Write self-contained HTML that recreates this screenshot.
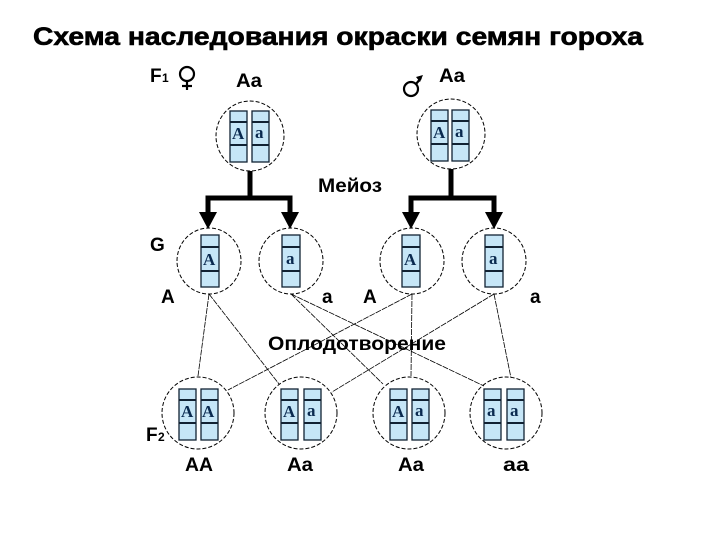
<!DOCTYPE html>
<html><head><meta charset="utf-8"><style>
html,body{margin:0;padding:0;background:#fff;}
svg{display:block;}
text{font-family:"Liberation Sans",sans-serif;font-weight:bold;fill:#000;}
.g{font-family:"Liberation Serif",serif;font-weight:bold;fill:#0a2a50;font-size:17px;}
</style></head><body>
<svg width="720" height="540" viewBox="0 0 720 540" xmlns="http://www.w3.org/2000/svg">
<defs>
<g id="chr2"><rect x="0" y="0" width="17" height="51" fill="#c6e6f7" stroke="#123" stroke-width="1.3"/><line x1="0" y1="11" x2="17" y2="11" stroke="#123" stroke-width="2"/><line x1="0" y1="34" x2="17" y2="34" stroke="#123" stroke-width="2"/></g>
<g id="chr1"><rect x="0" y="0" width="18" height="52" fill="#c6e6f7" stroke="#123" stroke-width="1.3"/><line x1="0" y1="12" x2="18" y2="12" stroke="#123" stroke-width="2"/><line x1="0" y1="36" x2="18" y2="36" stroke="#123" stroke-width="2"/></g>
</defs>
<text x="33" y="45" font-size="25" stroke="#000" stroke-width="0.6" textLength="610" lengthAdjust="spacingAndGlyphs">Схема наследования окраски семян  гороха</text>

<g fill="none" stroke="#000" stroke-width="1" stroke-dasharray="4,2">
<ellipse cx="250" cy="136" rx="34" ry="35"/>
<ellipse cx="451" cy="134" rx="34" ry="35"/>
<ellipse cx="209" cy="261" rx="32" ry="33"/>
<ellipse cx="291" cy="261" rx="32" ry="33"/>
<ellipse cx="412" cy="261" rx="32" ry="33"/>
<ellipse cx="494" cy="261" rx="32" ry="33"/>
</g>
<use href="#chr2" x="230" y="111"/><use href="#chr2" x="252" y="111"/>
<use href="#chr2" x="431" y="110"/><use href="#chr2" x="452" y="110"/>
<text class="g" x="232" y="139">A</text><text class="g" x="255" y="138">a</text>
<text class="g" x="433" y="138">A</text><text class="g" x="455" y="137">a</text>

<use href="#chr1" x="201" y="235"/><use href="#chr1" x="282" y="235"/>
<use href="#chr1" x="402" y="235"/><use href="#chr1" x="485" y="235"/>
<text class="g" x="203" y="265">A</text><text class="g" x="286" y="264">a</text>
<text class="g" x="404" y="265">A</text><text class="g" x="489" y="264">a</text>

<g fill="none" stroke="#000" stroke-width="5">
<path d="M250 171 V198 H208 V215 M250 198 H290 V215"/>
<path d="M451 169 V198 H411 V215 M451 198 H494 V215"/>
</g>
<g fill="#000">
<polygon points="199,212 217,212 208,229"/><polygon points="281,212 299,212 290,229"/>
<polygon points="402,212 420,212 411,229"/><polygon points="485,212 503,212 494,229"/>
</g>

<text x="150" y="82" font-size="19">F</text><text x="162" y="82" font-size="12">1</text>
<g fill="none" stroke="#000" stroke-width="2.2">
<circle cx="187" cy="74" r="7"/><line x1="187" y1="81" x2="187" y2="90"/><line x1="182" y1="86" x2="192" y2="86"/>
<circle cx="411" cy="89" r="7"/><line x1="416" y1="84" x2="421" y2="78"/>
</g>
<polygon points="416,77 423,75 420,82" fill="#000"/>
<text x="236" y="87" font-size="19" textLength="26" lengthAdjust="spacingAndGlyphs">Aa</text>
<text x="439" y="82" font-size="19" textLength="26" lengthAdjust="spacingAndGlyphs">Aa</text>
<text x="318" y="192" font-size="19" textLength="64" lengthAdjust="spacingAndGlyphs">Мейоз</text>
<text x="150" y="251" font-size="19">G</text>
<text x="161" y="303" font-size="19">A</text>
<text x="322" y="303" font-size="19">a</text>
<text x="363" y="303" font-size="19">A</text>
<text x="530" y="303" font-size="19">a</text>

<g stroke="#000" stroke-width="0.8" fill="none" stroke-dasharray="6,1">
<line x1="209" y1="294" x2="198" y2="376"/>
<line x1="209" y1="294" x2="279" y2="384"/>
<line x1="291" y1="294" x2="383" y2="384"/>
<line x1="291" y1="294" x2="484" y2="386"/>
<line x1="412" y1="294" x2="228" y2="390"/>
<line x1="412" y1="294" x2="411" y2="376"/>
<line x1="494" y1="294" x2="332" y2="392"/>
<line x1="494" y1="294" x2="511" y2="378"/>
</g>
<text x="268" y="350" font-size="19" textLength="178" lengthAdjust="spacingAndGlyphs">Оплодотворение</text>

<g fill="none" stroke="#000" stroke-width="1" stroke-dasharray="4,2">
<ellipse cx="198" cy="413" rx="36" ry="36"/>
<ellipse cx="301" cy="413" rx="36" ry="36"/>
<ellipse cx="409" cy="413" rx="36" ry="36"/>
<ellipse cx="506" cy="413" rx="36" ry="36"/>
</g>
<use href="#chr2" x="179" y="389"/><use href="#chr2" x="201" y="389"/>
<use href="#chr2" x="281" y="389"/><use href="#chr2" x="304" y="389"/>
<use href="#chr2" x="390" y="389"/><use href="#chr2" x="412" y="389"/>
<use href="#chr2" x="484" y="389"/><use href="#chr2" x="507" y="389"/>
<text class="g" x="181" y="417">A</text><text class="g" x="202" y="417">A</text>
<text class="g" x="283" y="417">A</text><text class="g" x="307" y="416">a</text>
<text class="g" x="392" y="417">A</text><text class="g" x="415" y="416">a</text>
<text class="g" x="487" y="416">a</text><text class="g" x="510" y="416">a</text>

<text x="146" y="441" font-size="19">F</text><text x="158" y="441" font-size="12">2</text>
<text x="185" y="471" font-size="19" textLength="28" lengthAdjust="spacingAndGlyphs">AA</text>
<text x="287" y="471" font-size="19" textLength="26" lengthAdjust="spacingAndGlyphs">Aa</text>
<text x="398" y="471" font-size="19" textLength="26" lengthAdjust="spacingAndGlyphs">Aa</text>
<text x="503" y="471" font-size="19" textLength="26" lengthAdjust="spacingAndGlyphs">aa</text>
</svg>
</body></html>
